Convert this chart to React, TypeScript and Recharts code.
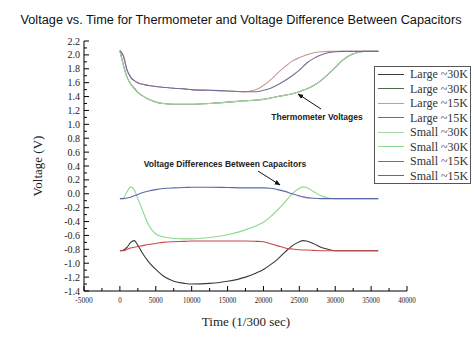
import { Line, LineChart, XAxis, YAxis } from "recharts";

// time in units of 1/300 sec
const times = [
  0, 500, 1000, 1500, 2000, 2500, 3000, 4000, 5000, 6000, 7500, 9000, 10000, 12500, 15000, 17500,
  19000, 20000, 21000, 22000, 23000, 24000, 25000, 25500, 26000, 27000, 28000, 29000, 30000, 31000,
  32000, 33000, 34000, 35000, 36000,
];

// thermometer voltages
const thLarge30 = [
  2.06, 1.85, 1.68, 1.58, 1.52, 1.46, 1.42, 1.36, 1.32, 1.3, 1.29, 1.29, 1.29, 1.3, 1.32, 1.34,
  1.35, 1.36, 1.38, 1.4, 1.42, 1.44, 1.47, 1.49, 1.51, 1.56, 1.63, 1.72, 1.82, 1.92, 1.99, 2.03,
  2.05, 2.05, 2.05,
];
const thSmall30 = [
  2.06, 1.84, 1.67, 1.58, 1.51, 1.46, 1.42, 1.36, 1.32, 1.3, 1.29, 1.29, 1.29, 1.3, 1.32, 1.34,
  1.35, 1.36, 1.38, 1.4, 1.42, 1.44, 1.47, 1.49, 1.51, 1.56, 1.63, 1.72, 1.82, 1.92, 1.99, 2.03,
  2.05, 2.05, 2.05,
];
const thLarge15 = [
  2.06, 1.98, 1.78, 1.68, 1.63, 1.6, 1.58, 1.56, 1.545, 1.535, 1.52, 1.51, 1.5, 1.49, 1.48, 1.47,
  1.5, 1.56, 1.64, 1.74, 1.83, 1.91, 1.96, 1.98, 2.0, 2.03, 2.045, 2.05, 2.05, 2.05, 2.05, 2.05,
  2.05, 2.05, 2.05,
];
const thSmall15 = [
  2.06, 1.98, 1.78, 1.68, 1.63, 1.6, 1.58, 1.56, 1.545, 1.535, 1.52, 1.51, 1.5, 1.49, 1.48, 1.47,
  1.47, 1.49, 1.52, 1.57, 1.63, 1.7, 1.78, 1.83, 1.88, 1.95, 2.0, 2.03, 2.045, 2.05, 2.05, 2.05,
  2.05, 2.05, 2.05,
];

// voltage differences between capacitors
const dfLarge30 = [
  -0.82, -0.81, -0.77, -0.7, -0.675, -0.74, -0.83, -0.98, -1.09, -1.18, -1.26, -1.29, -1.3, -1.29,
  -1.26, -1.2, -1.14, -1.09, -1.02, -0.94, -0.84, -0.75, -0.69, -0.675, -0.68, -0.72, -0.77, -0.8,
  -0.82, -0.82, -0.82, -0.82, -0.82, -0.82, -0.82,
];
const dfLarge15 = [
  -0.82, -0.82, -0.8, -0.78, -0.77, -0.76, -0.75, -0.73, -0.715, -0.7, -0.69, -0.685, -0.68, -0.68,
  -0.68, -0.68, -0.685, -0.69, -0.72, -0.75, -0.78, -0.795, -0.805, -0.81, -0.81, -0.815, -0.82,
  -0.82, -0.82, -0.82, -0.82, -0.82, -0.82, -0.82, -0.82,
];
const dfSmall30 = [
  -0.07, -0.06, 0.03, 0.1, 0.06, -0.07, -0.2, -0.45, -0.58, -0.62, -0.645, -0.65, -0.65, -0.63,
  -0.59, -0.52, -0.46, -0.41, -0.33, -0.23, -0.12, 0.0, 0.08, 0.1, 0.09, 0.03, -0.03, -0.06, -0.07,
  -0.07, -0.07, -0.07, -0.07, -0.07, -0.07,
];
const dfSmall15 = [
  -0.07, -0.07, -0.06, -0.05, -0.03, -0.01, 0.01, 0.04, 0.06, 0.075, 0.085, 0.09, 0.095, 0.095,
  0.09, 0.085, 0.085, 0.085, 0.08, 0.06, 0.035, 0.0, -0.03, -0.045, -0.055, -0.065, -0.07, -0.07,
  -0.07, -0.07, -0.07, -0.07, -0.07, -0.07, -0.07,
];

const xMajor = [-5000, 0, 5000, 10000, 15000, 20000, 25000, 30000, 35000, 40000];
const yMajor = [-1.4, -1.2, -1.0, -0.8, -0.6, -0.4, -0.2, 0.0, 0.2, 0.4, 0.6, 0.8, 1.0, 1.2, 1.4, 1.6, 1.8, 2.0, 2.2];

const xTicks = xMajor.flatMap((v, i) => (i < xMajor.length - 1 ? [v, v + 2500] : [v]));
const yTicks = yMajor.flatMap((v, i) => (i < yMajor.length - 1 ? [v, +(v + 0.1).toFixed(1)] : [v]));

const series = [
  { key: "dfLarge30", name: "Large ~30K", color: "#3a3a3a" },
  { key: "thLarge30", name: "Large ~30K", color: "#4f6a4f" },
  { key: "thLarge15", name: "Large ~15K", color: "#c89a9a" },
  { key: "dfLarge15", name: "Large ~15K", color: "#c84848" },
  { key: "thSmall30", name: "Small ~30K", color: "#a6d6a6" },
  { key: "dfSmall30", name: "Small ~30K", color: "#8fd88f" },
  { key: "thSmall15", name: "Small ~15K", color: "#7a6a9a" },
  { key: "dfSmall15", name: "Small ~15K", color: "#5a68aa" },
];

const rows = times.map((t, i) => ({
  t,
  thLarge30: thLarge30[i],
  thSmall30: thSmall30[i],
  thLarge15: thLarge15[i],
  thSmall15: thSmall15[i],
  dfLarge30: dfLarge30[i],
  dfLarge15: dfLarge15[i],
  dfSmall30: dfSmall30[i],
  dfSmall15: dfSmall15[i],
}));

const serif = "'Liberation Serif', 'Times New Roman', serif";
const sans = "'Liberation Sans', Arial, sans-serif";

function BottomTick({ x, y, payload }: any) {
  const major = payload.value % 5000 === 0;
  return (
    <g>
      <line x1={x} y1={y} x2={x} y2={y - (major ? 5 : 3)} stroke="#000" />
      {major && (
        <text
          x={x}
          y={y + 12}
          textAnchor="middle"
          fontFamily={serif}
          fontSize={9}
          fill="#222"
          textLength={String(payload.value).length * 3.5}
          lengthAdjust="spacingAndGlyphs"
        >
          {payload.value}
        </text>
      )}
    </g>
  );
}

function TopTick({ x, y, payload }: any) {
  const major = payload.value % 5000 === 0;
  return <line x1={x} y1={y} x2={x} y2={y + (major ? 5 : 3)} stroke="#000" />;
}

function LeftTick({ x, y, payload }: any) {
  const major = Math.round(payload.value * 10) % 2 === 0;
  return (
    <g>
      <line x1={x} y1={y} x2={x + (major ? 5 : 3)} y2={y} stroke="#000" />
      {major && (
        <text x={x - 4} y={y + 3.5} textAnchor="end" fontFamily={serif} fontSize={10} fill="#222">
          {payload.value.toFixed(1)}
        </text>
      )}
    </g>
  );
}

function RightTick({ x, y, payload }: any) {
  const major = Math.round(payload.value * 10) % 2 === 0;
  return <line x1={x} y1={y} x2={x - (major ? 5 : 3)} y2={y} stroke="#000" />;
}

function LegendBox() {
  return (
    <div
      style={{
        position: "absolute",
        left: 374,
        top: 66,
        width: 97,
        height: 118,
        border: "1px solid #555",
        background: "#fff",
        boxSizing: "border-box",
      }}
    >
      {series.map((s) => (
        <div key={s.key} style={{ display: "flex", alignItems: "center", height: 14.5 }}>
          <span style={{ width: 26, height: 1, background: s.color, marginLeft: 3, marginRight: 6 }} />
          <span style={{ fontFamily: serif, fontSize: 12, color: "#333", lineHeight: "14px" }}>{s.name}</span>
        </div>
      ))}
    </div>
  );
}

export default function App() {
  return (
    <div style={{ position: "absolute", left: 0, top: 0, width: 474, height: 351, background: "#fff" }}>
      <LineChart width={474} height={351} data={rows} margin={{ top: 41, right: 67, bottom: 30, left: 0 }}>
        <XAxis
          dataKey="t"
          type="number"
          domain={[-5000, 40000]}
          ticks={xTicks}
          interval={0}
          height={30}
          tickSize={0}
          tickMargin={0}
          axisLine={{ stroke: "#000" }}
          tickLine={false}
          tick={<BottomTick />}
        />
        <XAxis
          xAxisId="top"
          dataKey="t"
          type="number"
          orientation="top"
          domain={[-5000, 40000]}
          ticks={xTicks}
          interval={0}
          height={0}
          tickSize={0}
          tickMargin={0}
          axisLine={{ stroke: "#000" }}
          tickLine={false}
          tick={<TopTick />}
        />
        <YAxis
          type="number"
          domain={[-1.4, 2.2]}
          ticks={yTicks}
          interval={0}
          width={84}
          tickSize={0}
          tickMargin={0}
          axisLine={{ stroke: "#000" }}
          tickLine={false}
          tick={<LeftTick />}
        />
        <YAxis
          yAxisId="right"
          orientation="right"
          type="number"
          domain={[-1.4, 2.2]}
          ticks={yTicks}
          interval={0}
          width={0}
          tickSize={0}
          tickMargin={0}
          axisLine={{ stroke: "#000" }}
          tickLine={false}
          tick={<RightTick />}
        />
        {series.map((s) => (
          <Line
            key={s.key}
            dataKey={s.key}
            name={s.name}
            stroke={s.color}
            strokeWidth={1.1}
            type="monotone"
            dot={false}
            activeDot={false}
            isAnimationActive={false}
          />
        ))}
      </LineChart>
      <LegendBox />
      <svg
        width={474}
        height={351}
        style={{ position: "absolute", left: 0, top: 0, pointerEvents: "none" }}
      >
        <defs>
          <marker id="ah" viewBox="0 0 10 10" refX="9" refY="5" markerWidth="6" markerHeight="6" orient="auto">
            <path d="M0,1 L10,5 L0,9 z" fill="#111" />
          </marker>
        </defs>
        <text x={241} y={24} textAnchor="middle" fontFamily={sans} fontSize={12} fill="#111" textLength={441} lengthAdjust="spacingAndGlyphs">
          Voltage vs. Time for Thermometer and Voltage Difference Between Capacitors
        </text>
        <text x={317} y={120} textAnchor="middle" fontFamily={sans} fontWeight="bold" fontSize={8.5} fill="#222">
          Thermometer Voltages
        </text>
        <line x1={321} y1={109} x2={298} y2={94} stroke="#111" strokeWidth={1} markerEnd="url(#ah)" />
        <text x={225} y={167} textAnchor="middle" fontFamily={sans} fontWeight="bold" fontSize={8.5} fill="#222">
          Voltage Differences Between Capacitors
        </text>
        <line x1={258} y1={171} x2={280} y2={185} stroke="#111" strokeWidth={1} markerEnd="url(#ah)" />
        <text x={42} y={166} textAnchor="middle" fontFamily={serif} fontSize={13} fill="#222" transform="rotate(-90 42 166)">
          Voltage (V)
        </text>
        <text x={246} y={326} textAnchor="middle" fontFamily={serif} fontSize={13} fill="#222">
          Time (1/300 sec)
        </text>
      </svg>
    </div>
  );
}
